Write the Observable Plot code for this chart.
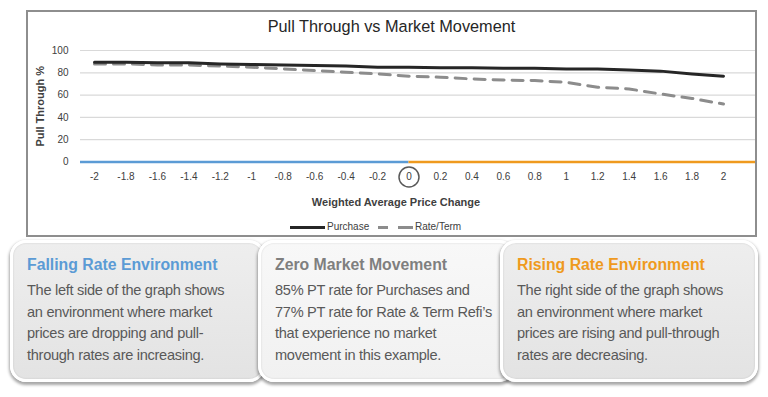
<!DOCTYPE html>
<html>
<head>
<meta charset="utf-8">
<script src="https://cdn.jsdelivr.net/npm/d3@7"></script>
<script src="https://cdn.jsdelivr.net/npm/@observablehq/plot@0.6"></script>
<style>
  html, body { margin: 0; padding: 0; background: #ffffff; }
  body { width: 768px; height: 397px; position: relative; overflow: hidden; font-family: "Liberation Sans", Arial, sans-serif; }
  #chartbox { position: absolute; left: 26px; top: 10px; width: 731px; height: 227px; box-sizing: border-box; border: 2px solid #8e8e8e; background: #fff; }
  #title { position: absolute; left: 0; top: 5px; width: 100%; text-align: center; font-size: 16.3px; color: #262626; }
  #plot { position: absolute; left: 0; top: 28px; }
  #legend { position: absolute; top: 208px; left: 0; width: 100%; height: 14px; font-size: 10px; color: #404040; }
  .sw { position: absolute; top: 6px; height: 3px; }
  .lt { position: absolute; top: 0; line-height: 14px; }
  .box { position: absolute; top: 240px; height: 142px; box-sizing: border-box; border: 3px solid #ffffff; border-radius: 16px; box-shadow: 0 2px 3px 1px rgba(0,0,0,0.35), inset 0 0 2px rgba(0,0,0,0.15); }
  .box h3 { margin: 0; position: absolute; left: 14px; top: 13px; font-size: 15.8px; font-weight: bold; white-space: nowrap; }
  .box p { margin: 0; position: absolute; left: 14px; top: 37px; font-size: 14.6px; line-height: 21.7px; color: #595959; white-space: nowrap; }
  .box p .tight { letter-spacing: -0.3px; }
</style>
</head>
<body>
<div id="chartbox">
  <div id="title"></div>
  <div id="plot"></div>
  <div id="legend"></div>
</div>
<div id="boxes"></div>
<script>
// ---- data ----
const chartTitle = "Pull Through vs Market Movement";
const xLabel = "Weighted Average Price Change";
const yLabel = "Pull Through %";
const priceChange = [-2, -1.8, -1.6, -1.4, -1.2, -1, -0.8, -0.6, -0.4, -0.2, 0, 0.2, 0.4, 0.6, 0.8, 1, 1.2, 1.4, 1.6, 1.8, 2];
const purchase = [89.5, 89.5, 89, 89, 88, 87.5, 87, 86.5, 86, 85, 85, 84.5, 84.5, 84, 84, 83.5, 83.5, 82.5, 81.5, 79, 77];
const rateTerm = [88, 88, 87, 87, 86, 85, 83.5, 82, 80.5, 79, 77, 76, 74.5, 73.5, 73, 71.5, 67, 65.5, 61, 57, 52];
const seriesNames = ["Purchase", "Rate/Term"];
const yTicks = [0, 20, 40, 60, 80, 100];
const xTickLabels = ["-2", "-1.8", "-1.6", "-1.4", "-1.2", "-1", "-0.8", "-0.6", "-0.4", "-0.2", "0", "0.2", "0.4", "0.6", "0.8", "1", "1.2", "1.4", "1.6", "1.8", "2"];
const highlightTick = [0];
const zones = [
  {name: "Falling", from: -2.089, to: 0},
  {name: "Rising", from: 0, to: 2.2035}
];
const boxTitles = ["Falling Rate Environment", "Zero Market Movement", "Rising Rate Environment"];
const boxTexts = [
  ["The left side of the graph shows", "an environment where market", "prices are dropping and pull-", "through rates are increasing."],
  ["85% PT rate for Purchases and", "77% PT rate for Rate & Term Refi\u2019s", "that experience no market", "movement in this example."],
  ["The right side of the graph shows", "an environment where market", "prices are rising and pull-through", "rates are decreasing."]
];

// ---- styles ----
const colors = {Purchase: "#262626", "Rate/Term": "#8c8c8c", Falling: "#5b9bd5", Rising: "#ef9a1e"};
const boxTitleColors = ["#5b9bd5", "#7f7f7f", "#ef9a1e"];
const boxLayout = [
  {left: 10, width: 255, bg: "linear-gradient(#eeeeee, #e3e3e3)"},
  {left: 258, width: 257, bg: "linear-gradient(#f8f8f8, #f1f1f1)"},
  {left: 500, width: 258, bg: "linear-gradient(#eeeeee, #e3e3e3)"}
];

const rows = [];
priceChange.forEach((x, i) => {
  rows.push({x, y: purchase[i], s: seriesNames[0]});
  rows.push({x, y: rateTerm[i], s: seriesNames[1]});
});

document.getElementById("title").textContent = chartTitle;

const chart = Plot.plot({
  width: 727,
  height: 175,
  marginLeft: 52,
  marginRight: 0,
  marginTop: 10,
  marginBottom: 53.5,
  style: {fontFamily: "Liberation Sans, Arial, sans-serif", fontSize: "10px", color: "#404040", background: "transparent"},
  x: {domain: [zones[0].from, zones[1].to], label: null},
  y: {domain: [0, 100], label: null},
  marks: [
    Plot.ruleY(yTicks.filter(d => d > 0), {stroke: "#d9d9d9", strokeWidth: 1.2}),
    Plot.ruleY(zones, {y: () => 0, x1: "from", x2: "to", stroke: d => colors[d.name], strokeWidth: 2.5}),
    Plot.axisY(yTicks, {tickSize: 0, tickPadding: 12, fontSize: 10, label: null}),
    Plot.axisX(priceChange, {tickSize: 0, tickPadding: 11, tickFormat: (d) => xTickLabels[priceChange.indexOf(d)], fontSize: 10, label: null}),
    Plot.lineY(rows.filter(d => d.s === "Rate/Term"), {x: "x", y: "y", stroke: colors["Rate/Term"], strokeWidth: 3, strokeDasharray: "11,8"}),
    Plot.lineY(rows.filter(d => d.s === "Purchase"), {x: "x", y: "y", stroke: colors["Purchase"], strokeWidth: 3}),
    Plot.dot(highlightTick, {x: d => d, frameAnchor: "bottom", dy: 15, r: 10, stroke: "#595959", strokeWidth: 1.5, fill: "none"}),
    Plot.text([xLabel], {frameAnchor: "bottom", lineAnchor: "middle", textAnchor: "middle", dy: 40, dx: -22, fontWeight: "bold", fontSize: 11, fill: "#404040"}),
    Plot.text([yLabel], {frameAnchor: "left", lineAnchor: "middle", textAnchor: "middle", dx: -40, rotate: -90, fontWeight: "bold", fontSize: 11, fill: "#404040"})
  ]
});
document.getElementById("plot").appendChild(chart);

// legend (HTML)
const legend = document.getElementById("legend");
const legendItems = [
  {name: seriesNames[0], swLeft: 262, swW: 35, labelLeft: 299, bg: colors.Purchase},
  {name: seriesNames[1], swLeft: 350, swW: 35, labelLeft: 387, bg: `repeating-linear-gradient(to right, ${colors["Rate/Term"]} 0 10px, transparent 10px 20px, ${colors["Rate/Term"]} 20px 35px)`}
];
legendItems.forEach(it => {
  const sw = document.createElement("div");
  sw.className = "sw";
  sw.style.left = it.swLeft + "px";
  sw.style.width = it.swW + "px";
  sw.style.background = it.bg;
  legend.appendChild(sw);
  const lt = document.createElement("div");
  lt.className = "lt";
  lt.style.left = it.labelLeft + "px";
  lt.textContent = it.name;
  legend.appendChild(lt);
});

// text boxes
const esc = s => s.replace(/&/g, "&amp;");
const boxes = document.getElementById("boxes");
boxTitles.forEach((t, i) => {
  const b = document.createElement("div");
  b.className = "box";
  b.style.left = boxLayout[i].left + "px";
  b.style.width = boxLayout[i].width + "px";
  b.style.background = boxLayout[i].bg;
  b.style.zIndex = i + 1;
  const h = document.createElement("h3");
  h.textContent = t;
  h.style.color = boxTitleColors[i];
  b.appendChild(h);
  const p = document.createElement("p");
  p.innerHTML = boxTexts[i].map(s => `<span class="tight">${esc(s)}</span>`).join("<br>");
  b.appendChild(p);
  boxes.appendChild(b);
});
</script>
</body>
</html>
